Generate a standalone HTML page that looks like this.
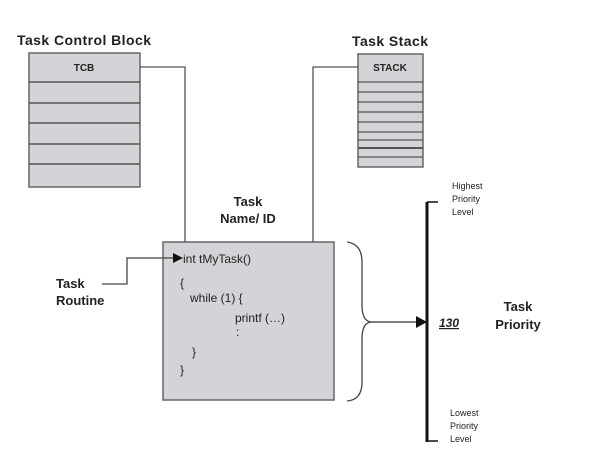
<!DOCTYPE html>
<html><head><style>
body{margin:0;background:#fff;}
svg text{font-family:"Liberation Sans",sans-serif;fill:#222;}
</style></head><body>
<svg width="612" height="453" viewBox="0 0 612 453" xmlns="http://www.w3.org/2000/svg">
<g font-weight="bold" font-size="13">
<text x="17" y="45" font-size="14" textLength="134">Task Control Block</text>
<text x="352" y="46" font-size="14" textLength="76">Task Stack</text>
<text x="248" y="206" text-anchor="middle">Task</text>
<text x="248" y="223" text-anchor="middle">Name/ ID</text>
<text x="56" y="288">Task</text>
<text x="56" y="305">Routine</text>
<text x="518" y="311" text-anchor="middle">Task</text>
<text x="518" y="329" text-anchor="middle">Priority</text>
</g>
<!-- TCB -->
<rect x="29" y="53" width="111" height="134" fill="#d4d4d8" stroke="#666" stroke-width="1.5"/>
<g stroke="#555" stroke-width="1.5">
<line x1="29" y1="82" x2="140" y2="82"/><line x1="29" y1="103" x2="140" y2="103"/>
<line x1="29" y1="123" x2="140" y2="123"/><line x1="29" y1="144" x2="140" y2="144"/>
<line x1="29" y1="164" x2="140" y2="164"/>
</g>
<text x="84" y="71" font-size="10" font-weight="bold" text-anchor="middle">TCB</text>
<!-- Stack -->
<rect x="358" y="54" width="65" height="113" fill="#d4d4d8" stroke="#666" stroke-width="1.5"/>
<g stroke="#555" stroke-width="1.2">
<line x1="358" y1="82" x2="423" y2="82"/><line x1="358" y1="92" x2="423" y2="92"/>
<line x1="358" y1="102" x2="423" y2="102"/><line x1="358" y1="112" x2="423" y2="112"/>
<line x1="358" y1="122" x2="423" y2="122"/><line x1="358" y1="132" x2="423" y2="132"/>
<line x1="358" y1="140" x2="423" y2="140"/><line x1="358" y1="148" x2="423" y2="148" stroke-width="2"/>
<line x1="358" y1="157" x2="423" y2="157"/>
</g>
<text x="390" y="71" font-size="10" font-weight="bold" text-anchor="middle">STACK</text>
<!-- connectors -->
<polyline points="140,67 185,67 185,242" fill="none" stroke="#555" stroke-width="1.3"/>
<polyline points="358,67 313,67 313,242" fill="none" stroke="#555" stroke-width="1.3"/>
<!-- code box -->
<rect x="163" y="242" width="171" height="158" fill="#d4d4d8" stroke="#666" stroke-width="1.5"/>
<polyline points="102,284 127,284 127,258 176,258" fill="none" stroke="#444" stroke-width="1.3"/>
<polygon points="173,253 183,258 173,263" fill="#111"/>
<g font-size="12">
<text x="183" y="263">int tMyTask()</text>
<text x="180" y="287">{</text>
<text x="190" y="302">while (1) {</text>
<text x="235" y="322">printf (…)</text>
<text x="236" y="336">:</text>
<text x="192" y="356">}</text>
<text x="180" y="374">}</text>
</g>
<!-- brace -->
<path d="M347,242 Q362,244 362,262 L362,305 Q362,322 372,322 Q362,322 362,339 L362,382 Q362,400 347,401" fill="none" stroke="#444" stroke-width="1.3"/>
<line x1="372" y1="322" x2="418" y2="322" stroke="#333" stroke-width="1.3"/>
<polygon points="416,316 427,322 416,328" fill="#111"/>
<!-- priority scale -->
<line x1="427" y1="202" x2="427" y2="442" stroke="#111" stroke-width="3"/>
<line x1="427" y1="202" x2="438" y2="202" stroke="#111" stroke-width="1.5"/>
<line x1="427" y1="441" x2="438" y2="441" stroke="#111" stroke-width="1.5"/>
<g font-size="9">
<text x="452" y="189">Highest</text><text x="452" y="202">Priority</text><text x="452" y="215">Level</text>
<text x="450" y="416">Lowest</text><text x="450" y="429">Priority</text><text x="450" y="442">Level</text>
</g>
<text x="439" y="327" font-size="12" font-weight="bold" font-style="italic" text-decoration="underline">130</text>
</svg>
</body></html>
